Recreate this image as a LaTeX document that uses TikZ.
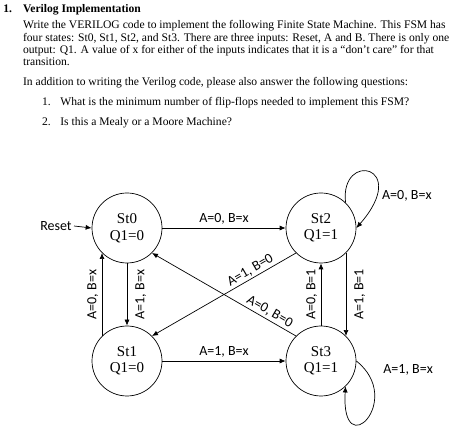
\documentclass[tikz,border=0pt]{standalone}
\usepackage{fontspec}
\setmainfont{Liberation Serif}
\newfontfamily\labelfont{Carlito}
\usetikzlibrary{arrows.meta}

\begin{document}
\begin{tikzpicture}[x=1pt, y=-1pt, >={Latex[length=6pt,width=5pt]}, line width=0.7pt,
    state/.style={circle, draw, minimum size=70pt, inner sep=0pt, align=center,
      font=\fontsize{15}{16.5}\selectfont},
    lbl/.style={font=\labelfont\fontsize{14}{16}\selectfont, inner sep=2pt},
    txt/.style={anchor=base west, inner sep=0pt, font=\fontsize{11.6}{13}\selectfont}]
    \useasboundingbox (0,0) rectangle (474,427);
    % question text
    \node[txt] (num) at (3,12.3) {\textbf{1.}};
    \node[txt] (title) at (22.7,12.3) {\textbf{Verilog Implementation}};
    \node[txt] (line1) at (22.7,29) {Write the VERILOG code to implement the following Finite State Machine. This FSM has};
    \node[txt] (line2) at (22.7,41.7) {four states: St0, St1, St2, and St3. There are three inputs: Reset, A and B. There is only one};
    \node[txt] (line3) at (22.7,53.7) {output: Q1. A value of x for either of the inputs indicates that it is a “don’t care” for that};
    \node[txt] (line4) at (22.7,66) {transition.};
    \node[txt] (line5) at (22.7,86) {In addition to writing the Verilog code, please also answer the following questions:};
    \node[txt] (qnum1) at (41.7,106) {1.};
    \node[txt] (ques1) at (60,106) {What is the minimum number of flip-flops needed to implement this FSM?};
    \node[txt] (qnum2) at (41.7,126) {2.};
    \node[txt] (ques2) at (60,126) {Is this a Mealy or a Moore Machine?};
    % states
    \node[state] (st0) at (127,228) {St0\\Q1=0};
    \node[state] (st2) at (321,228) {St2\\Q1=1};
    \node[state] (st1) at (127,361) {St1\\Q1=0};
    \node[state] (st3) at (321,361) {St3\\Q1=1};
    \node[lbl, anchor=east] (reset) at (74,226) {Reset};
    \draw[->] (reset.east) -- (st0.west);
    % horizontal lines
    \draw[->] (st0) -- node[lbl, above=1.5pt] {A=0, B=x} (st2);
    \draw[->] (st1) -- node[lbl, above=1.5pt] {A=1, B=x} (st3);
    % vertical lines
    \draw[->] (st1.135) -- node[lbl, midway, xshift=-1.5pt, rotate=90, anchor=south] {A=0, B=x} (st0.225);
    \draw[->] (st0) -- node[lbl, midway, xshift=6pt, rotate=90, anchor=north] {A=1, B=x} (st1);
    \draw[->] (st3) -- node[lbl, midway, xshift=-1.5pt, rotate=90, anchor=south] {A=0, B=1} (st2);
    \draw[->] (st2.315) -- node[lbl, midway, xshift=6pt, rotate=90, anchor=north] {A=1, B=1} (st3.45);
    % diagonals
    \draw[->] (st2.225) -- node[lbl, pos=0.29, sloped, above] {A=1, B=0} (st1.45);
    \draw[->] (st3.135) -- node[lbl, pos=0.21, sloped, above] {A=0, B=0} (st0.315);
    % self loops
    \draw[->] (st2.46) .. controls +(-6,-52) and +(55,-63) .. node[lbl, pos=0.8, right=4pt] {A=0, B=x} (st2.0);
    \draw[->] (st3.0) .. controls +(49,39) and +(-5,79) .. node[lbl, pos=0.07, right=16pt] {A=1, B=x} (st3.-46);
\end{tikzpicture}
\end{document}
